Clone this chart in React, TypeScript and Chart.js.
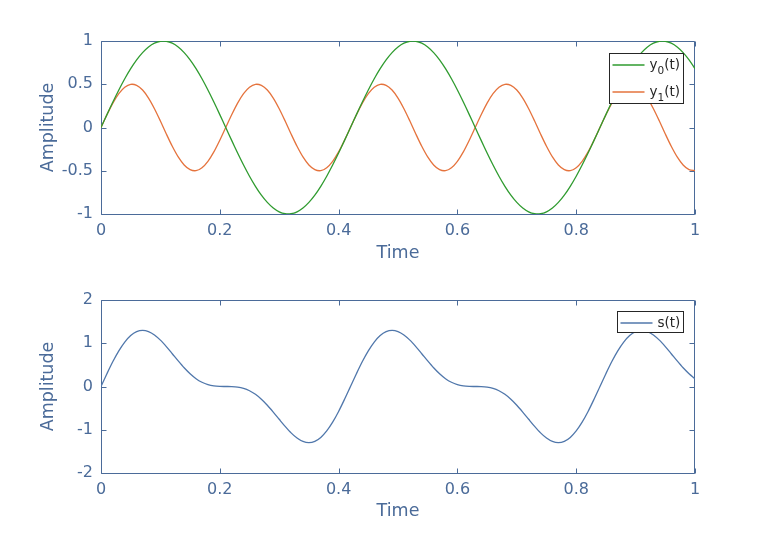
import React, { useEffect, useRef } from "react";
import { Chart, registerables } from "chart.js";

Chart.register(...registerables);

// ---------- data ----------
const times = [
  0, 0.01, 0.02, 0.03, 0.04, 0.05, 0.06, 0.07, 0.08, 0.09,
  0.1, 0.11, 0.12, 0.13, 0.14, 0.15, 0.16, 0.17, 0.18, 0.19,
  0.2, 0.21, 0.22, 0.23, 0.24, 0.25, 0.26, 0.27, 0.28, 0.29,
  0.3, 0.31, 0.32, 0.33, 0.34, 0.35, 0.36, 0.37, 0.38, 0.39,
  0.4, 0.41, 0.42, 0.43, 0.44, 0.45, 0.46, 0.47, 0.48, 0.49,
  0.5, 0.51, 0.52, 0.53, 0.54, 0.55, 0.56, 0.57, 0.58, 0.59,
  0.6, 0.61, 0.62, 0.63, 0.64, 0.65, 0.66, 0.67, 0.68, 0.69,
  0.7, 0.71, 0.72, 0.73, 0.74, 0.75, 0.76, 0.77, 0.78, 0.79,
  0.8, 0.81, 0.82, 0.83, 0.84, 0.85, 0.86, 0.87, 0.88, 0.89,
  0.9, 0.91, 0.92, 0.93, 0.94, 0.95, 0.96, 0.97, 0.98, 0.99,
  1.0,
];

const y0Values = [
  0, 0.149, 0.295, 0.434, 0.563, 0.68, 0.782, 0.866, 0.931, 0.975,
  0.997, 0.997, 0.975, 0.931, 0.866, 0.782, 0.68, 0.563, 0.434, 0.295,
  0.149, 0, -0.149, -0.295, -0.434, -0.563, -0.68, -0.782, -0.866, -0.931,
  -0.975, -0.997, -0.997, -0.975, -0.931, -0.866, -0.782, -0.68, -0.563, -0.434,
  -0.295, -0.149,
  0, 0.149, 0.295, 0.434, 0.563, 0.68, 0.782, 0.866, 0.931, 0.975,
  0.997, 0.997, 0.975, 0.931, 0.866, 0.782, 0.68, 0.563, 0.434, 0.295,
  0.149, 0, -0.149, -0.295, -0.434, -0.563, -0.68, -0.782, -0.866, -0.931,
  -0.975, -0.997, -0.997, -0.975, -0.931, -0.866, -0.782, -0.68, -0.563, -0.434,
  -0.295, -0.149,
  0, 0.149, 0.295, 0.434, 0.563, 0.68, 0.782, 0.866, 0.931, 0.975,
  0.997, 0.997, 0.975, 0.931, 0.866, 0.782, 0.68,
];

const y1Values = [
  0, 0.147, 0.282, 0.391, 0.465, 0.499, 0.487, 0.433, 0.34, 0.217,
  0.075, -0.075, -0.217, -0.34, -0.433, -0.487, -0.499, -0.465, -0.391, -0.282,
  -0.147,
  0, 0.147, 0.282, 0.391, 0.465, 0.499, 0.487, 0.433, 0.34, 0.217,
  0.075, -0.075, -0.217, -0.34, -0.433, -0.487, -0.499, -0.465, -0.391, -0.282,
  -0.147,
  0, 0.147, 0.282, 0.391, 0.465, 0.499, 0.487, 0.433, 0.34, 0.217,
  0.075, -0.075, -0.217, -0.34, -0.433, -0.487, -0.499, -0.465, -0.391, -0.282,
  -0.147,
  0, 0.147, 0.282, 0.391, 0.465, 0.499, 0.487, 0.433, 0.34, 0.217,
  0.075, -0.075, -0.217, -0.34, -0.433, -0.487, -0.499, -0.465, -0.391, -0.282,
  -0.147,
  0, 0.147, 0.282, 0.391, 0.465, 0.499, 0.487, 0.433, 0.34, 0.217,
  0.075, -0.075, -0.217, -0.34, -0.433, -0.487, -0.499,
];

const sValues = [
  0, 0.296, 0.577, 0.825, 1.028, 1.179, 1.269, 1.299, 1.271, 1.192,
  1.072, 0.922, 0.758, 0.591, 0.433, 0.295, 0.181, 0.098, 0.043, 0.013,
  0.002, 0, -0.002, -0.013, -0.043, -0.098, -0.181, -0.295, -0.433, -0.591,
  -0.758, -0.922, -1.072, -1.192, -1.271, -1.299, -1.269, -1.179, -1.028, -0.825,
  -0.577, -0.296,
  0, 0.296, 0.577, 0.825, 1.028, 1.179, 1.269, 1.299, 1.271, 1.192,
  1.072, 0.922, 0.758, 0.591, 0.433, 0.295, 0.181, 0.098, 0.043, 0.013,
  0.002, 0, -0.002, -0.013, -0.043, -0.098, -0.181, -0.295, -0.433, -0.591,
  -0.758, -0.922, -1.072, -1.192, -1.271, -1.299, -1.269, -1.179, -1.028, -0.825,
  -0.577, -0.296,
  0, 0.296, 0.577, 0.825, 1.028, 1.179, 1.269, 1.299, 1.271, 1.192,
  1.072, 0.922, 0.758, 0.591, 0.433, 0.295, 0.181,
];

const xTickStep = 0.2;
const topYTickStep = 0.5;
const bottomYTickStep = 1;
const topLegendLabels = ["y_0(t)", "y_1(t)"];
const bottomLegendLabels = ["s(t)"];
const xTitle = "Time";
const yTitle = "Amplitude";

// ---------- styles ----------
const FONT = "'DejaVu Sans', sans-serif";
const AXIS_COLOR = "#4b6b99";
const TEXT_DARK = "#262626";
const GREEN = "#2f9b2f";
const ORANGE = "#e5733d";
const STEEL = "#5077ab";
const TICK_SIZE = 16;
const TITLE_SIZE = 17.5;

const fmt = (v: number) => String(Math.round(v * 100) / 100);

function framePlugin(tickLen: number) {
  return {
    id: "frame",
    beforeDatasetsDraw(chart: any) {
      const { ctx, chartArea } = chart;
      const L = Math.round(chartArea.left) + 0.5;
      const R = Math.round(chartArea.right) - 0.5;
      const T = Math.round(chartArea.top) + 0.5;
      const B = Math.round(chartArea.bottom) + 0.5;
      ctx.save();
      ctx.strokeStyle = AXIS_COLOR;
      ctx.lineWidth = 1;
      ctx.beginPath();
      ctx.rect(L, T, R - L, B - T);
      const xs = chart.scales.x;
      const ys = chart.scales.y;
      xs.ticks.forEach((t: any) => {
        const px = Math.round(xs.getPixelForValue(t.value)) + 0.5;
        ctx.moveTo(px, B);
        ctx.lineTo(px, B - tickLen);
        ctx.moveTo(px, T);
        ctx.lineTo(px, T + tickLen);
      });
      ys.ticks.forEach((t: any) => {
        const py = Math.round(ys.getPixelForValue(t.value)) + 0.5;
        ctx.moveTo(L, py);
        ctx.lineTo(L + tickLen, py);
        ctx.moveTo(R, py);
        ctx.lineTo(R - tickLen, py);
      });
      ctx.stroke();
      ctx.restore();
    },
  };
}

type LegendLayout = {
  marginRight: number;
  marginTop: number;
  padTop: number;
  rowGap: number;
  padBottom: number;
};

function parseLabel(label: string) {
  const i = label.indexOf("_");
  if (i < 0) return { main: label, sub: "", rest: "" };
  return { main: label.slice(0, i), sub: label.charAt(i + 1), rest: label.slice(i + 2) };
}

function legendPlugin(layout: LegendLayout) {
  return {
    id: "boxLegend",
    afterDraw(chart: any) {
      const { ctx, chartArea } = chart;
      const mainFont = `13.5px ${FONT}`;
      const subFont = `10.5px ${FONT}`;
      const items = chart.data.datasets.map((d: any) => {
        const p = parseLabel(d.label);
        ctx.font = mainFont;
        const w1 = ctx.measureText(p.main).width;
        const w3 = ctx.measureText(p.rest).width;
        ctx.font = subFont;
        const w2 = p.sub ? ctx.measureText(p.sub).width : 0;
        return { ...p, w1, w2, w3, color: d.borderColor, width: w1 + w2 + w3 };
      });
      const textW = Math.max(...items.map((it: any) => it.width));
      const padL = 3, lineLen = 32, gap = 5, padR = 4;
      const boxW = padL + lineLen + gap + textW + padR;
      const n = items.length;
      const boxH = layout.padTop + (n - 1) * layout.rowGap + layout.padBottom;
      const right = Math.round(chartArea.right - layout.marginRight) + 0.5;
      const left = Math.round(right - boxW) + 0.5;
      const top = Math.round(chartArea.top + layout.marginTop) + 0.5;
      ctx.save();
      ctx.fillStyle = "#ffffff";
      ctx.fillRect(left, top, right - left, boxH);
      ctx.strokeStyle = TEXT_DARK;
      ctx.lineWidth = 1;
      ctx.strokeRect(left, top, right - left, boxH);
      items.forEach((it: any, i: number) => {
        const ly = Math.round(top + layout.padTop + i * layout.rowGap);
        ctx.strokeStyle = it.color;
        ctx.lineWidth = 1.3;
        ctx.beginPath();
        ctx.moveTo(left + padL, ly);
        ctx.lineTo(left + padL + lineLen, ly);
        ctx.stroke();
        let x = left + padL + lineLen + gap;
        const base = ly + 4;
        ctx.fillStyle = TEXT_DARK;
        ctx.textBaseline = "alphabetic";
        ctx.textAlign = "left";
        ctx.font = mainFont;
        ctx.fillText(it.main, x, base);
        x += it.w1;
        if (it.sub) {
          ctx.font = subFont;
          ctx.fillText(it.sub, x, base + 5);
          x += it.w2;
        }
        ctx.font = mainFont;
        ctx.fillText(it.rest, x, base);
      });
      ctx.restore();
    },
  };
}

function makeScales(opts: {
  yMin: number;
  yMax: number;
  yStep: number;
  xAxisHeight: number;
  xTitlePadBottom: number;
}) {
  return {
    x: {
      type: "linear" as const,
      min: 0,
      max: 1,
      grid: { display: false, drawTicks: false },
      border: { display: false },
      ticks: {
        stepSize: xTickStep,
        padding: 7,
        color: AXIS_COLOR,
        font: { family: FONT, size: TICK_SIZE },
        maxRotation: 0,
        autoSkip: false,
        callback: (v: any) => fmt(Number(v)),
      },
      title: {
        display: true,
        text: xTitle,
        color: AXIS_COLOR,
        font: { family: FONT, size: TITLE_SIZE },
        padding: { top: 0, bottom: opts.xTitlePadBottom },
      },
      afterFit: (s: any) => {
        s.height = opts.xAxisHeight;
      },
    },
    y: {
      type: "linear" as const,
      min: opts.yMin,
      max: opts.yMax,
      grid: { display: false, drawTicks: false },
      border: { display: false },
      ticks: {
        stepSize: opts.yStep,
        padding: 8,
        color: AXIS_COLOR,
        font: { family: FONT, size: TICK_SIZE },
        autoSkip: false,
        callback: (v: any) => fmt(Number(v)),
      },
      title: {
        display: true,
        text: yTitle,
        color: AXIS_COLOR,
        font: { family: FONT, size: TITLE_SIZE },
        padding: { top: 37.5, bottom: 0 },
      },
      afterFit: (s: any) => {
        s.width = 101;
      },
    },
  };
}

const toPoints = (ys: number[]) => times.map((t, i) => ({ x: t, y: ys[i] }));

export default function App() {
  const topRef = useRef<HTMLCanvasElement>(null);
  const bottomRef = useRef<HTMLCanvasElement>(null);

  useEffect(() => {
    const lineDs = (label: string, data: number[], color: string) => ({
      label,
      data: toPoints(data),
      borderColor: color,
      backgroundColor: color,
      borderWidth: 1.3,
      pointRadius: 0,
      tension: 0.3,
      fill: false,
    });

    const top = new Chart(topRef.current as HTMLCanvasElement, {
      type: "line",
      data: {
        datasets: [
          lineDs(topLegendLabels[0], y0Values, GREEN),
          lineDs(topLegendLabels[1], y1Values, ORANGE),
        ],
      },
      options: {
        animation: false,
        responsive: false,
        layout: { padding: { left: 0, right: 73, top: 41, bottom: 0 } },
        plugins: { legend: { display: false }, tooltip: { enabled: false } },
        scales: makeScales({ yMin: -1, yMax: 1, yStep: topYTickStep, xAxisHeight: 59, xTitlePadBottom: 9.5 }),
      } as any,
      plugins: [
        framePlugin(5),
        legendPlugin({ marginRight: 12, marginTop: 12, padTop: 11, rowGap: 27, padBottom: 12 }),
      ],
    });

    const bottom = new Chart(bottomRef.current as HTMLCanvasElement, {
      type: "line",
      data: {
        datasets: [lineDs(bottomLegendLabels[0], sValues, STEEL)],
      },
      options: {
        animation: false,
        responsive: false,
        layout: { padding: { left: 0, right: 73, top: 27, bottom: 0 } },
        plugins: { legend: { display: false }, tooltip: { enabled: false } },
        scales: makeScales({ yMin: -2, yMax: 2, yStep: bottomYTickStep, xAxisHeight: 73, xTitlePadBottom: 24 }),
      } as any,
      plugins: [
        framePlugin(5),
        legendPlugin({ marginRight: 12, marginTop: 11, padTop: 11, rowGap: 27, padBottom: 10 }),
      ],
    });

    return () => {
      top.destroy();
      bottom.destroy();
    };
  }, []);

  return (
    <div
      style={{
        position: "fixed",
        left: 0,
        top: 0,
        width: 768,
        height: 546,
        background: "#ffffff",
      }}
    >
      <canvas ref={topRef} width={768} height={273} style={{ display: "block" }} />
      <canvas ref={bottomRef} width={768} height={273} style={{ display: "block" }} />
    </div>
  );
}
